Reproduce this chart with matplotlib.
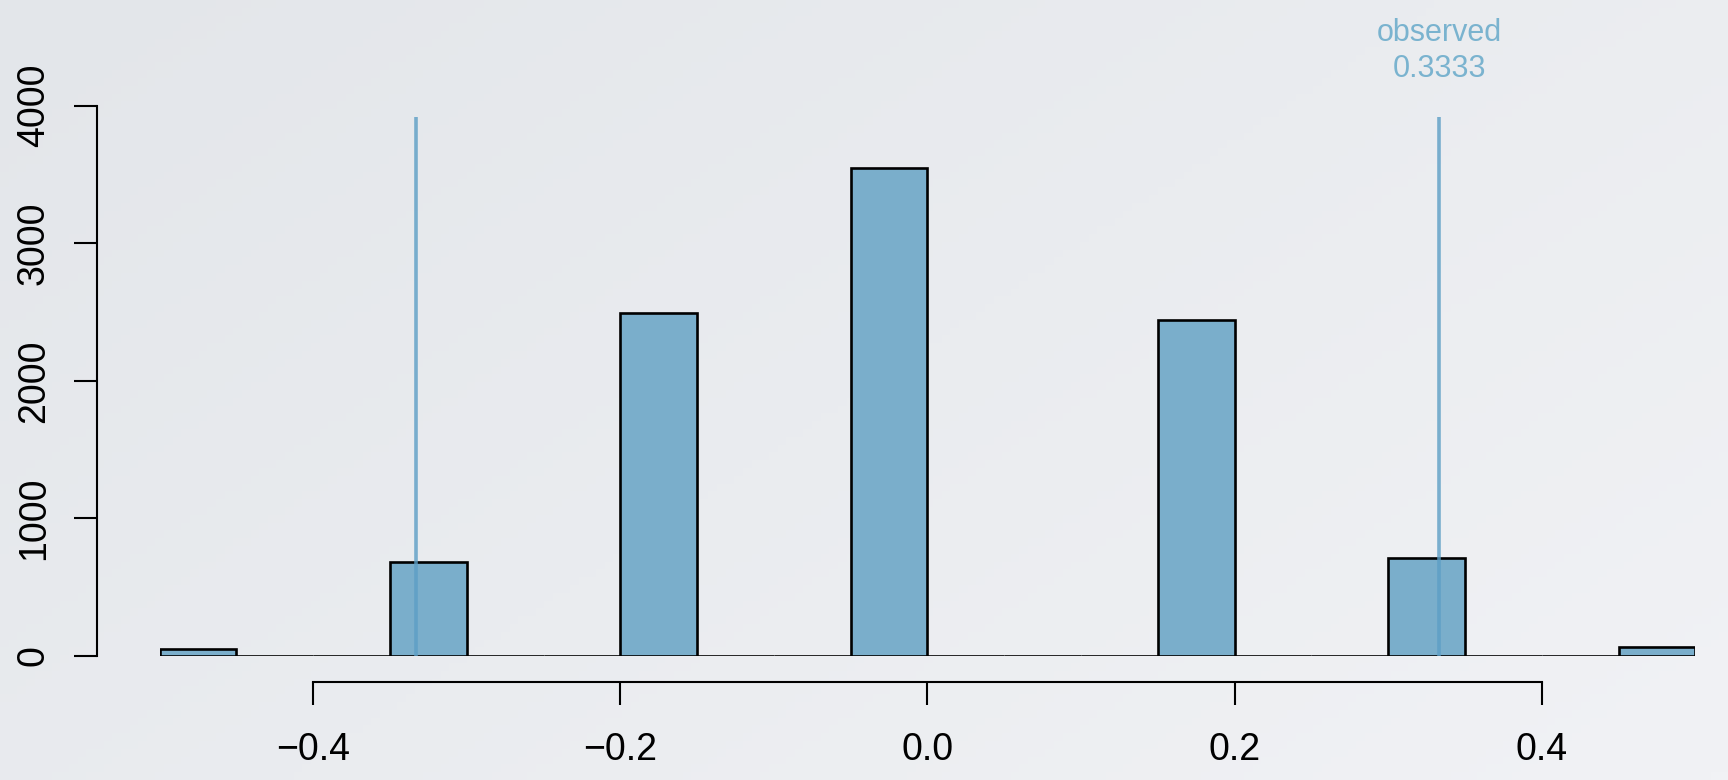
import numpy as np
import matplotlib
matplotlib.use("Agg")
import matplotlib.pyplot as plt
from matplotlib.colors import LinearSegmentedColormap

plt.rcParams['font.family'] = ['Liberation Sans', 'DejaVu Sans']

# Histogram data: bins of width 0.05 from -0.5 to 0.5
bin_left = [-0.50, -0.45, -0.40, -0.35, -0.30, -0.25, -0.20, -0.15, -0.10, -0.05,
            0.00, 0.05, 0.10, 0.15, 0.20, 0.25, 0.30, 0.35, 0.40, 0.45]
counts = [53, 0, 0, 682, 0, 0, 2490, 0, 0, 3550,
          0, 0, 0, 2441, 0, 0, 711, 0, 0, 68]
bin_width = 0.05
observed = 0.3333
line_top = 3920
x_ticks = [-0.4, -0.2, 0.0, 0.2, 0.4]
x_tick_labels = ["\u22120.4", "\u22120.2", "0.0", "0.2", "0.4"]
y_ticks = [0, 1000, 2000, 3000, 4000]

W, H = 1728, 780
fig = plt.figure(figsize=(W / 100, H / 100), dpi=100)

# background gradient
bg = fig.add_axes([0, 0, 1, 1])
gx, gy = np.meshgrid(np.linspace(0, 1, 200), np.linspace(0, 1, 100))
grad = 0.6 * gx + 0.4 * gy
cmap = LinearSegmentedColormap.from_list("bg", ["#e3e6ea", "#f1f2f5"])
bg.imshow(grad, cmap=cmap, aspect='auto', extent=[0, 1, 1, 0])
bg.set_axis_off()

left = 159.5 / W
width = 1536 / W
bottom = 1 - 656 / H
height = (656 - 105.7) / H
ax = fig.add_axes([left, bottom, width, height])
ax.patch.set_alpha(0)

ax.bar(bin_left, counts, width=bin_width, align='edge', color='#7aaecb',
       edgecolor='black', linewidth=1.9, zorder=2)

ax.vlines([-observed, observed], 0, line_top, color='#5c9ec5', alpha=0.8,
          linewidth=2.6, zorder=3)

ax.text(observed, 4395, "observed\n0.3333", ha='center', va='center',
        color='#7ab3cf', fontsize=22, linespacing=1.25, clip_on=False)

ax.set_xlim(-0.5, 0.5)
ax.set_ylim(0, 4000)

for s in ['top', 'right']:
    ax.spines[s].set_visible(False)
ax.spines['left'].set_position(('outward', 45.2))
ax.spines['bottom'].set_position(('outward', 18.7))
ax.spines['left'].set_bounds(0, 4000)
ax.spines['bottom'].set_bounds(-0.4, 0.4)
for s in ['left', 'bottom']:
    ax.spines[s].set_linewidth(1.5)
    ax.spines[s].set_color('black')

ax.set_xticks(x_ticks)
ax.set_xticklabels(x_tick_labels)
ax.set_yticks(y_ticks)
ax.set_yticklabels([str(v) for v in y_ticks], rotation=90, va='center')
ax.tick_params(axis='both', length=16.3, width=1.5, labelsize=27, color='black')
ax.tick_params(axis='x', pad=20)
ax.tick_params(axis='y', pad=16)

fig.savefig("out.png", dpi=100)
